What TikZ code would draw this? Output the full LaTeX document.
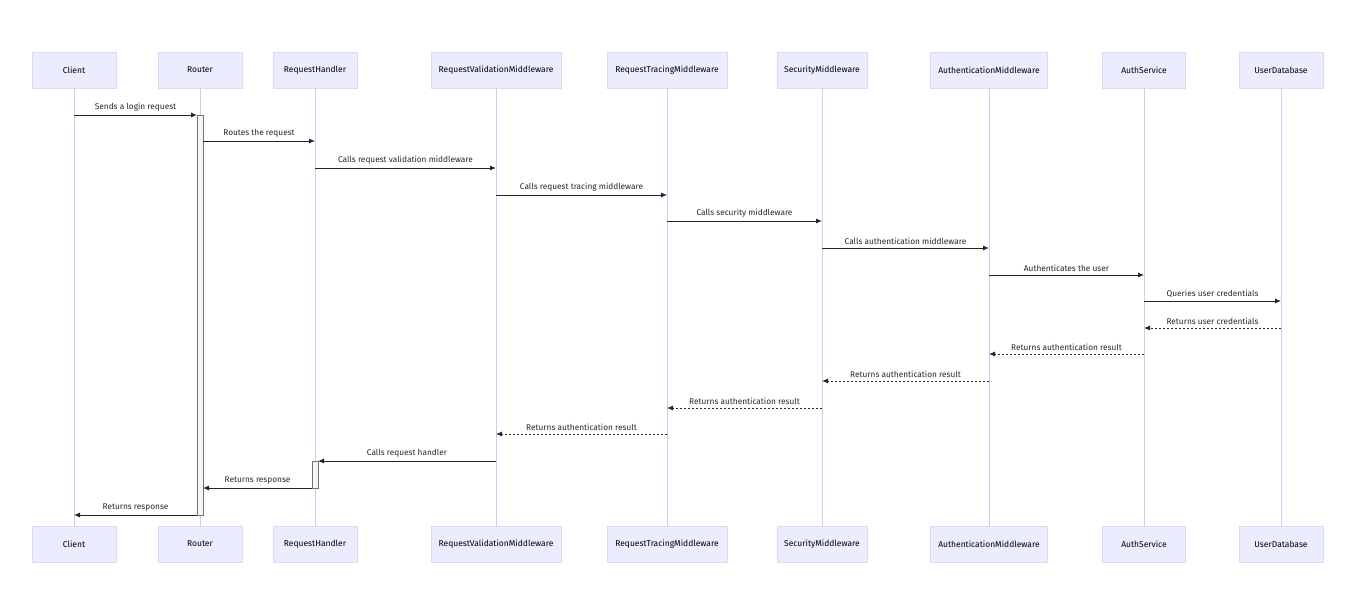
\documentclass[tikz,border=0pt]{standalone}
\usepackage{fontspec}
\setmainfont{Fira Sans}
\usetikzlibrary{arrows.meta}
\definecolor{boxfill}{HTML}{ECECFF}
\definecolor{boxline}{HTML}{DCDAF7}
\definecolor{life}{HTML}{CFCBF2}
\begin{document}
\begin{tikzpicture}[x=1pt,y=-1pt,
  actor/.style={draw=boxline,fill=boxfill,minimum height=36pt,inner sep=0pt,font=\fontsize{8.5}{10}\selectfont},
  lifeline/.style={draw=life,line width=0.8pt},
  msg/.style={draw=black!85,line width=0.9pt,-{Latex[length=6pt,width=5pt]}},
  ret/.style={msg,dash pattern=on 2pt off 2pt},
  lbl/.style={font=\fontsize{8.3}{10}\selectfont,text=black!85,inner sep=1pt},
  act/.style={draw=black!55,fill=black!4,line width=0.6pt}]
\useasboundingbox (0,0) rectangle (1358,610);
\foreach \n/\x/\w/\t in {c/74/84/Client, r/200/84/Router, h/315/84/RequestHandler, v/496/130/RequestValidationMiddleware, t/667/120/RequestTracingMiddleware, s/822/90/SecurityMiddleware, a/989/117/AuthenticationMiddleware, as/1144/83/AuthService, u/1281/84/UserDatabase}{
  \node[actor,minimum width=\w pt] (\n top) at (\x,70) {\t};
  \node[actor,minimum width=\w pt] (\n bot) at (\x,544) {\t};
  \draw[lifeline] (\n top.south) -- (\n bot.north);
  \foreach \y in {115,141,168,195,221,248,275,301,328,354,381,408,434,461,488,515}{
    \coordinate (\n\y) at (\x,\y);}
}
\draw[act] (197,115) rectangle (203,515);
\draw[act] (312,461) rectangle (318,488);
\coordinate (rR115) at (197,115); \coordinate (rR141) at (203,141);
\coordinate (rR488) at (203,488); \coordinate (rR515) at (197,515);
\coordinate (hL461) at (318,461); \coordinate (hL488) at (312,488);
\draw[msg] (c115) -- node[lbl,above=2pt] {Sends a login request} (rR115);
\draw[msg] (rR141) -- node[lbl,above=2pt] {Routes the request} (h141);
\draw[msg] (h168) -- node[lbl,above=2pt] {Calls request validation middleware} (v168);
\draw[msg] (v195) -- node[lbl,above=2pt] {Calls request tracing middleware} (t195);
\draw[msg] (t221) -- node[lbl,above=2pt] {Calls security middleware} (s221);
\draw[msg] (s248) -- node[lbl,above=2pt] {Calls authentication middleware} (a248);
\draw[msg] (a275) -- node[lbl,above=2pt] {Authenticates the user} (as275);
\draw[msg] (as301) -- node[lbl,above=2pt] {Queries user credentials} (u301);
\draw[ret] (u328) -- node[lbl,above=2pt] {Returns user credentials} (as328);
\draw[ret] (as354) -- node[lbl,above=2pt] {Returns authentication result} (a354);
\draw[ret] (a381) -- node[lbl,above=2pt] {Returns authentication result} (s381);
\draw[ret] (s408) -- node[lbl,above=2pt] {Returns authentication result} (t408);
\draw[ret] (t434) -- node[lbl,above=2pt] {Returns authentication result} (v434);
\draw[msg] (v461) -- node[lbl,above=2pt] {Calls request handler} (hL461);
\draw[msg] (hL488) -- node[lbl,above=2pt] {Returns response} (rR488);
\draw[msg] (rR515) -- node[lbl,above=2pt] {Returns response} (c515);
\end{tikzpicture}
\end{document}
